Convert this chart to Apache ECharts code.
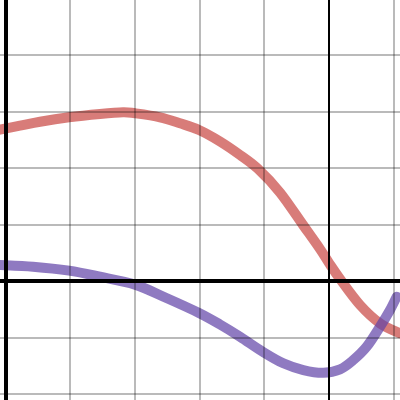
<!DOCTYPE html>
<html>
<head>
<meta charset="utf-8">
<script src="https://cdn.jsdelivr.net/npm/echarts@6/dist/echarts.min.js"></script>
<style>html,body{margin:0;padding:0;background:#fff;}#c{width:400px;height:400px;}</style>
</head>
<body>
<div id="c"></div>
<script>
// Grid line positions (data units)
const xGrid = [1, 2, 3, 4, 6];
const yGrid = [-2, -1, 1, 2, 3, 4];
const xMarker = 5; // black vertical line
// Red curve
const redX = [-0.082, 0.227, 0.537, 0.985, 1.464, 1.820, 2.006, 2.392, 2.701, 2.995, 3.320, 3.629, 3.908, 4.248, 4.604, 4.866, 5.005, 5.176, 5.485, 5.794, 6.103];
const redY = [2.678, 2.748, 2.819, 2.897, 2.956, 2.986, 2.968, 2.897, 2.791, 2.672, 2.469, 2.230, 1.982, 1.565, 0.990, 0.565, 0.317, 0.034, -0.427, -0.751, -0.928];
// Purple curve
const purpleX = [-0.082, 0.428, 0.985, 1.464, 2.006, 2.5, 2.995, 3.320, 3.629, 3.980, 4.299, 4.608, 4.917, 5.176, 5.381, 5.588, 5.794, 5.949, 6.052];
const purpleY = [0.282, 0.251, 0.181, 0.074, -0.066, -0.308, -0.568, -0.772, -0.988, -1.254, -1.459, -1.578, -1.626, -1.565, -1.401, -1.165, -0.811, -0.515, -0.280];

const zip = (xs, ys) => xs.map((x, i) => [x, ys[i]]);
const chart = echarts.init(document.getElementById('c'));
const gridStyle = { color: 'rgba(0,0,0,0.27)', width: 2, type: 'solid' };

// Smooth curve through the data points (Catmull-Rom), positioned by the chart's axes
function curveSeries(xs, ys, color, z) {
  return {
    type: 'custom', z: z, silent: true, clip: true,
    data: zip(xs, ys),
    renderItem: function (params, api) {
      if (params.dataIndex !== 0) return null;
      const p = xs.map((x, i) => api.coord([x, ys[i]]));
      const n = p.length;
      let d = 'M' + p[0][0] + ' ' + p[0][1];
      for (let i = 0; i < n - 1; i++) {
        const p0 = p[Math.max(i - 1, 0)], p1 = p[i], p2 = p[i + 1], p3 = p[Math.min(i + 2, n - 1)];
        const c1x = p1[0] + (p2[0] - p0[0]) / 6, c1y = p1[1] + (p2[1] - p0[1]) / 6;
        const c2x = p2[0] - (p3[0] - p1[0]) / 6, c2y = p2[1] - (p3[1] - p1[1]) / 6;
        d += ' C' + c1x + ' ' + c1y + ' ' + c2x + ' ' + c2y + ' ' + p2[0] + ' ' + p2[1];
      }
      return {
        type: 'path',
        shape: { pathData: d },
        style: { fill: null, stroke: color, lineWidth: 10, opacity: 0.7, lineCap: 'round', lineJoin: 'round' }
      };
    }
  };
}

chart.setOption({
  animation: false,
  grid: { left: 0, right: 0, top: 0, bottom: 0 },
  xAxis: { type: 'value', min: -0.082, max: 6.103, show: false },
  yAxis: { type: 'value', min: -2.109, max: 4.974, show: false },
  series: [
    {
      type: 'line', data: [], z: 1, silent: true,
      markLine: {
        silent: true, symbol: ['none', 'none'], label: { show: false },
        lineStyle: gridStyle, animation: false,
        data: xGrid.map(v => ({ xAxis: v })).concat(yGrid.map(v => ({ yAxis: v })))
      }
    },
    {
      type: 'line', data: [], z: 2, silent: true,
      markLine: {
        silent: true, symbol: ['none', 'none'], label: { show: false }, animation: false,
        data: [
          { xAxis: 0, lineStyle: { color: '#000', width: 4, type: 'solid' } },
          { yAxis: 0, lineStyle: { color: '#000', width: 4, type: 'solid' } },
          { xAxis: xMarker, lineStyle: { color: '#000', width: 2, type: 'solid' } }
        ]
      }
    },
    curveSeries(redX, redY, '#c74440', 3),
    curveSeries(purpleX, purpleY, '#6042a6', 4)
  ]
});
</script>
</body>
</html>
